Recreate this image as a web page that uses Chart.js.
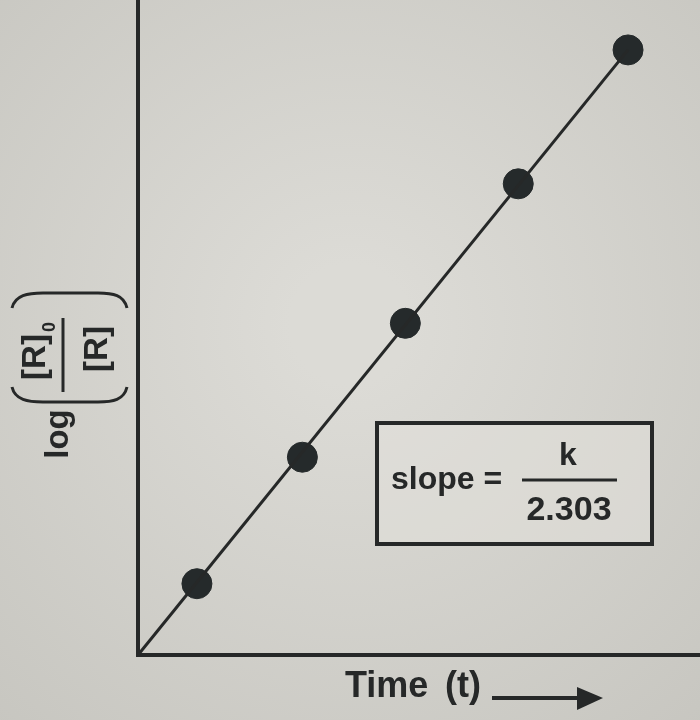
<!DOCTYPE html>
<html>
<head>
<meta charset="utf-8">
<script src="https://cdn.jsdelivr.net/npm/chart.js@4.4.1/dist/chart.umd.min.js"></script>
<style>
  html, body { margin: 0; padding: 0; background: #d2d1cb; }
  #wrap { width: 700px; height: 720px; position: relative; }
</style>
</head>
<body>
<div id="wrap"><canvas id="chart_canvas" width="700" height="720"></canvas></div>
<script>
// measured points (time, log([R]0/[R])) in arbitrary units
var times = [0.95, 2.65, 4.31, 6.13, 7.90];
var logRatio = [1.15, 3.19, 5.35, 7.60, 9.76];
// straight line through the origin, drawn up to the last point
var fitTimes = [0, 7.90];
var fitLog = [0, 9.76];

var ink = "#262828";
var font = "'Liberation Sans', Arial, sans-serif";

function pairs(xs, ys) {
  return xs.map(function (x, i) { return { x: x, y: ys[i] }; });
}

// paper background with slightly darker edges
var paper = {
  id: "paper",
  beforeDraw: function (chart) {
    var c = chart.ctx, w = chart.width, h = chart.height;
    var g = c.createRadialGradient(w * 0.5, h * 0.45, 60, w * 0.5, h * 0.45, 560);
    g.addColorStop(0, "#dcdbd6");
    g.addColorStop(1, "#c6c5bf");
    c.save();
    c.fillStyle = g;
    c.fillRect(0, 0, w, h);
    c.restore();
  }
};

// axis titles and the slope box
var labels = {
  id: "labels",
  afterDraw: function (chart) {
    var c = chart.ctx;
    c.save();
    c.fillStyle = ink;
    c.strokeStyle = ink;

    // x title
    c.font = "bold 36px " + font;
    c.textBaseline = "alphabetic";
    c.textAlign = "left";
    c.fillText("Time", 345, 697);
    c.fillText("(t)", 445, 697);
    c.lineWidth = 4;
    c.beginPath();
    c.moveTo(492, 698);
    c.lineTo(582, 698);
    c.stroke();
    c.beginPath();
    c.moveTo(603, 698);
    c.lineTo(577, 687);
    c.lineTo(577, 710);
    c.closePath();
    c.fill();

    // y title, rotated
    c.save();
    c.translate(63, 380);
    c.rotate(-Math.PI / 2);
    c.textAlign = "center";
    c.font = "bold 33px " + font;
    c.fillText("log", -54, 5);
    c.fillText("[R]", 23, -18);
    c.fillText("[R]", 31, 44);
    c.font = "bold 18px " + font;
    c.fillText("0", 53, -8);
    c.lineWidth = 3;
    c.beginPath();
    c.moveTo(-12, 0);
    c.lineTo(62, 0);
    c.stroke();
    // parentheses
    c.lineWidth = 3;
    c.beginPath();
    c.moveTo(-7, -51);
    c.bezierCurveTo(-20, -48, -22, -35, -22, -20);
    c.lineTo(-22, 35);
    c.bezierCurveTo(-22, 50, -20, 61, -7, 64);
    c.stroke();
    c.beginPath();
    c.moveTo(72, -51);
    c.bezierCurveTo(85, -48, 87, -35, 87, -20);
    c.lineTo(87, 35);
    c.bezierCurveTo(87, 50, 85, 61, 72, 64);
    c.stroke();
    c.restore();

    // slope box
    c.fillStyle = "rgba(225,224,218,0.55)";
    c.fillRect(377, 423, 275, 121);
    c.lineWidth = 4;
    c.strokeRect(377, 423, 275, 121);
    c.fillStyle = ink;
    c.font = "bold 32px " + font;
    c.textAlign = "left";
    c.fillText("slope =", 391, 489);
    c.textAlign = "center";
    c.fillText("k", 568, 465);
    c.font = "bold 34px " + font;
    c.fillText("2.303", 569, 520);
    c.lineWidth = 3;
    c.beginPath();
    c.moveTo(522, 480);
    c.lineTo(617, 480);
    c.stroke();
    c.restore();
  }
};

var ctx = document.getElementById("chart_canvas");

var myChart = new Chart(ctx, {
  type: "scatter",
  data: {
    datasets: [{
        type: "line",
        data: pairs(fitTimes, fitLog),
        borderColor: ink,
        borderWidth: 3,
        pointRadius: 0,
        fill: false,
        clip: false
      }, {
        data: pairs(times, logRatio),
        backgroundColor: "#252a2b",
        borderColor: "#252a2b",
        pointRadius: 15,
        pointHoverRadius: 15,
        clip: false
      }]
  },
  options: {
    responsive: false,
    animation: false,
    devicePixelRatio: 1,
    layout: {
      autoPadding: false,
      padding: { left: 138, right: 0, top: 0, bottom: 65 }
    },
    plugins: {
      legend: { display: false },
      tooltip: { enabled: false }
    },
    scales: {
      x: {
        type: "linear",
        min: 0,
        max: 9.06,
        grid: { display: false, drawTicks: false },
        ticks: { display: false },
        border: { display: true, color: ink, width: 4 }
      },
      y: {
        type: "linear",
        min: 0,
        max: 10.565,
        grid: { display: false, drawTicks: false },
        ticks: { display: false },
        border: { display: true, color: ink, width: 4 }
      }
    }
  },
  plugins: [paper, labels]
});
</script>
</body>
</html>
